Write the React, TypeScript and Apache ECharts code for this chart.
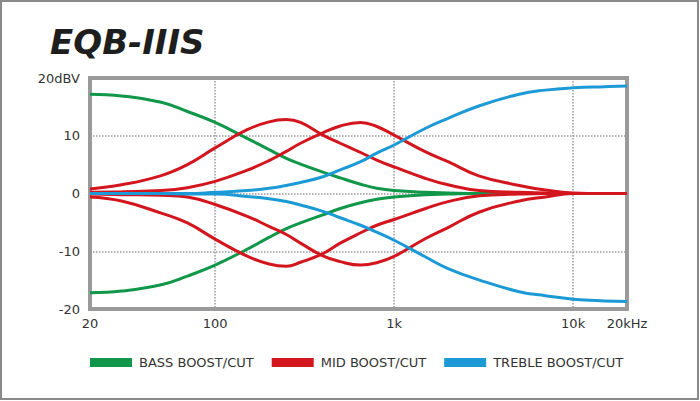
import React, { useRef, useEffect } from 'react';
import * as echarts from 'echarts';

// frequency points (Hz) the curves were read at
const freqs = [20, 30, 50, 70, 100, 150, 200, 250, 300, 400, 500, 650, 800, 1000, 1500, 2000, 3000, 5000, 7000, 10000, 15000, 20000];

const bassBoost = [17.2, 16.9, 15.8, 14.2, 12.3, 9.6, 7.6, 6.1, 5.1, 3.7, 2.7, 1.6, 0.9, 0.5, 0.2, 0.1, 0, 0, 0, 0, 0, 0];
const bassCut = [-17.2, -16.9, -15.8, -14.3, -12.4, -9.7, -7.6, -6.1, -5.1, -3.7, -2.6, -1.6, -1.0, -0.6, -0.2, -0.1, 0, 0, 0, 0, 0, 0];
const midBoostLow = [0.8, 1.5, 3.1, 5.0, 7.9, 11.0, 12.4, 12.8, 12.3, 10.1, 8.7, 7.1, 5.8, 4.6, 2.6, 1.5, 0.5, 0.2, 0.1, 0, 0, 0];
const midCutLow = [-0.6, -1.3, -3.4, -5.1, -7.9, -10.8, -12.2, -12.6, -11.9, -10.4, -8.6, -6.8, -5.5, -4.5, -2.6, -1.4, -0.4, -0.1, 0, 0, 0, 0];
const midBoostHigh = [0.2, 0.3, 0.5, 1.0, 2.1, 4.0, 5.7, 7.3, 8.7, 10.5, 11.7, 12.3, 11.6, 10.1, 7.2, 5.5, 3.0, 1.4, 0.6, 0.1, 0, 0];
const midCutHigh = [-0.1, -0.2, -0.3, -0.6, -1.9, -3.9, -5.7, -7.1, -8.6, -10.8, -11.8, -12.4, -12.0, -10.9, -7.8, -5.9, -3.2, -1.3, -0.6, 0, 0, 0];
const trebleBoost = [0, 0, 0, 0, 0.2, 0.5, 0.9, 1.4, 1.9, 2.9, 4.1, 5.5, 7.0, 8.4, 11.3, 13.0, 15.2, 17.2, 17.9, 18.3, 18.5, 18.6];
const trebleCut = [0, 0, 0, -0.1, -0.1, -0.5, -0.9, -1.4, -2.0, -3.1, -4.2, -5.5, -6.7, -8.1, -11.0, -13.0, -15.0, -17.0, -17.7, -18.3, -18.6, -18.7];

const legendNames = ['BASS BOOST/CUT', 'MID BOOST/CUT', 'TREBLE BOOST/CUT'];
const colors = ['#10974a', '#d3161e', '#1c9ad6'];

const xTickLabels: Record<number, string> = { 20: '20', 100: '100', 1000: '1k', 10000: '10k', 20000: '20kHz' };

const FONT = 'DejaVu Sans';

export default function App() {
  const chartRef = useRef<HTMLDivElement>(null);

  useEffect(() => {
    document.body.style.margin = '0';
    if (!chartRef.current) return;
    const chart = echarts.init(chartRef.current, undefined, { renderer: 'svg' });

    const curve = (name: string, color: string, values: number[]) => ({
      name,
      type: 'line',
      data: freqs.map((f, i) => [f, values[i]]),
      smooth: 0.45,
      symbol: 'none',
      lineStyle: { color, width: 3 },
      itemStyle: { color },
    });

    const option: echarts.EChartsOption = {
      animation: false,
      backgroundColor: '#fff',
      title: {
        text: 'EQB-IIIS',
        left: 45,
        top: 20,
        textStyle: { fontFamily: FONT, fontSize: 34, fontWeight: 'bold', fontStyle: 'italic', color: '#1e1e1e' },
      },
      graphic: [
        {
          type: 'rect',
          shape: { x: 1, y: 1, width: 697, height: 398 },
          style: { fill: 'none', stroke: '#8a8a8a', lineWidth: 2 },
          silent: true,
        },
      ],
      legend: {
        data: legendNames,
        left: 90,
        top: 356,
        padding: 0,
        icon: 'rect',
        itemWidth: 42,
        itemHeight: 9,
        itemGap: 18,
        selectedMode: false,
        textStyle: { fontFamily: FONT, fontSize: 13, color: '#333', padding: [0, 0, 0, 2] },
      },
      grid: {
        left: 90,
        top: 78,
        width: 537,
        height: 231,
        show: true,
        borderColor: '#9a9a9a',
        borderWidth: 4,
        containLabel: false,
      },
      xAxis: {
        type: 'log',
        logBase: 10,
        min: 20,
        max: 20000,
        axisLine: { show: false },
        axisTick: { show: false },
        axisLabel: {
          margin: 8,
          fontFamily: FONT,
          fontSize: 13,
          color: '#333',
          showMinLabel: true,
          showMaxLabel: true,
          formatter: (v: number) => xTickLabels[Math.round(v)] ?? '',
        },
        splitLine: {
          show: true,
          showMinLine: false,
          showMaxLine: false,
          lineStyle: { color: '#999', type: 'dotted', width: 1.5 },
        },
      },
      yAxis: {
        type: 'value',
        min: -20,
        max: 20,
        interval: 10,
        axisLine: { show: false },
        axisTick: { show: false },
        axisLabel: {
          margin: 10,
          fontFamily: FONT,
          fontSize: 13,
          color: '#333',
          formatter: (v: number) => (v === 20 ? '20dBV' : String(v)),
        },
        splitLine: {
          show: true,
          showMinLine: false,
          showMaxLine: false,
          lineStyle: { color: '#999', type: 'dotted', width: 1.5 },
        },
      },
      series: [
        curve(legendNames[0], colors[0], bassBoost),
        curve(legendNames[0], colors[0], bassCut),
        curve(legendNames[1], colors[1], midBoostLow),
        curve(legendNames[1], colors[1], midCutLow),
        curve(legendNames[1], colors[1], midBoostHigh),
        curve(legendNames[1], colors[1], midCutHigh),
        curve(legendNames[2], colors[2], trebleBoost),
        curve(legendNames[2], colors[2], trebleCut),
      ] as echarts.SeriesOption[],
    };

    chart.setOption(option);
    return () => chart.dispose();
  }, []);

  return <div ref={chartRef} style={{ width: 700, height: 401 }} />;
}
